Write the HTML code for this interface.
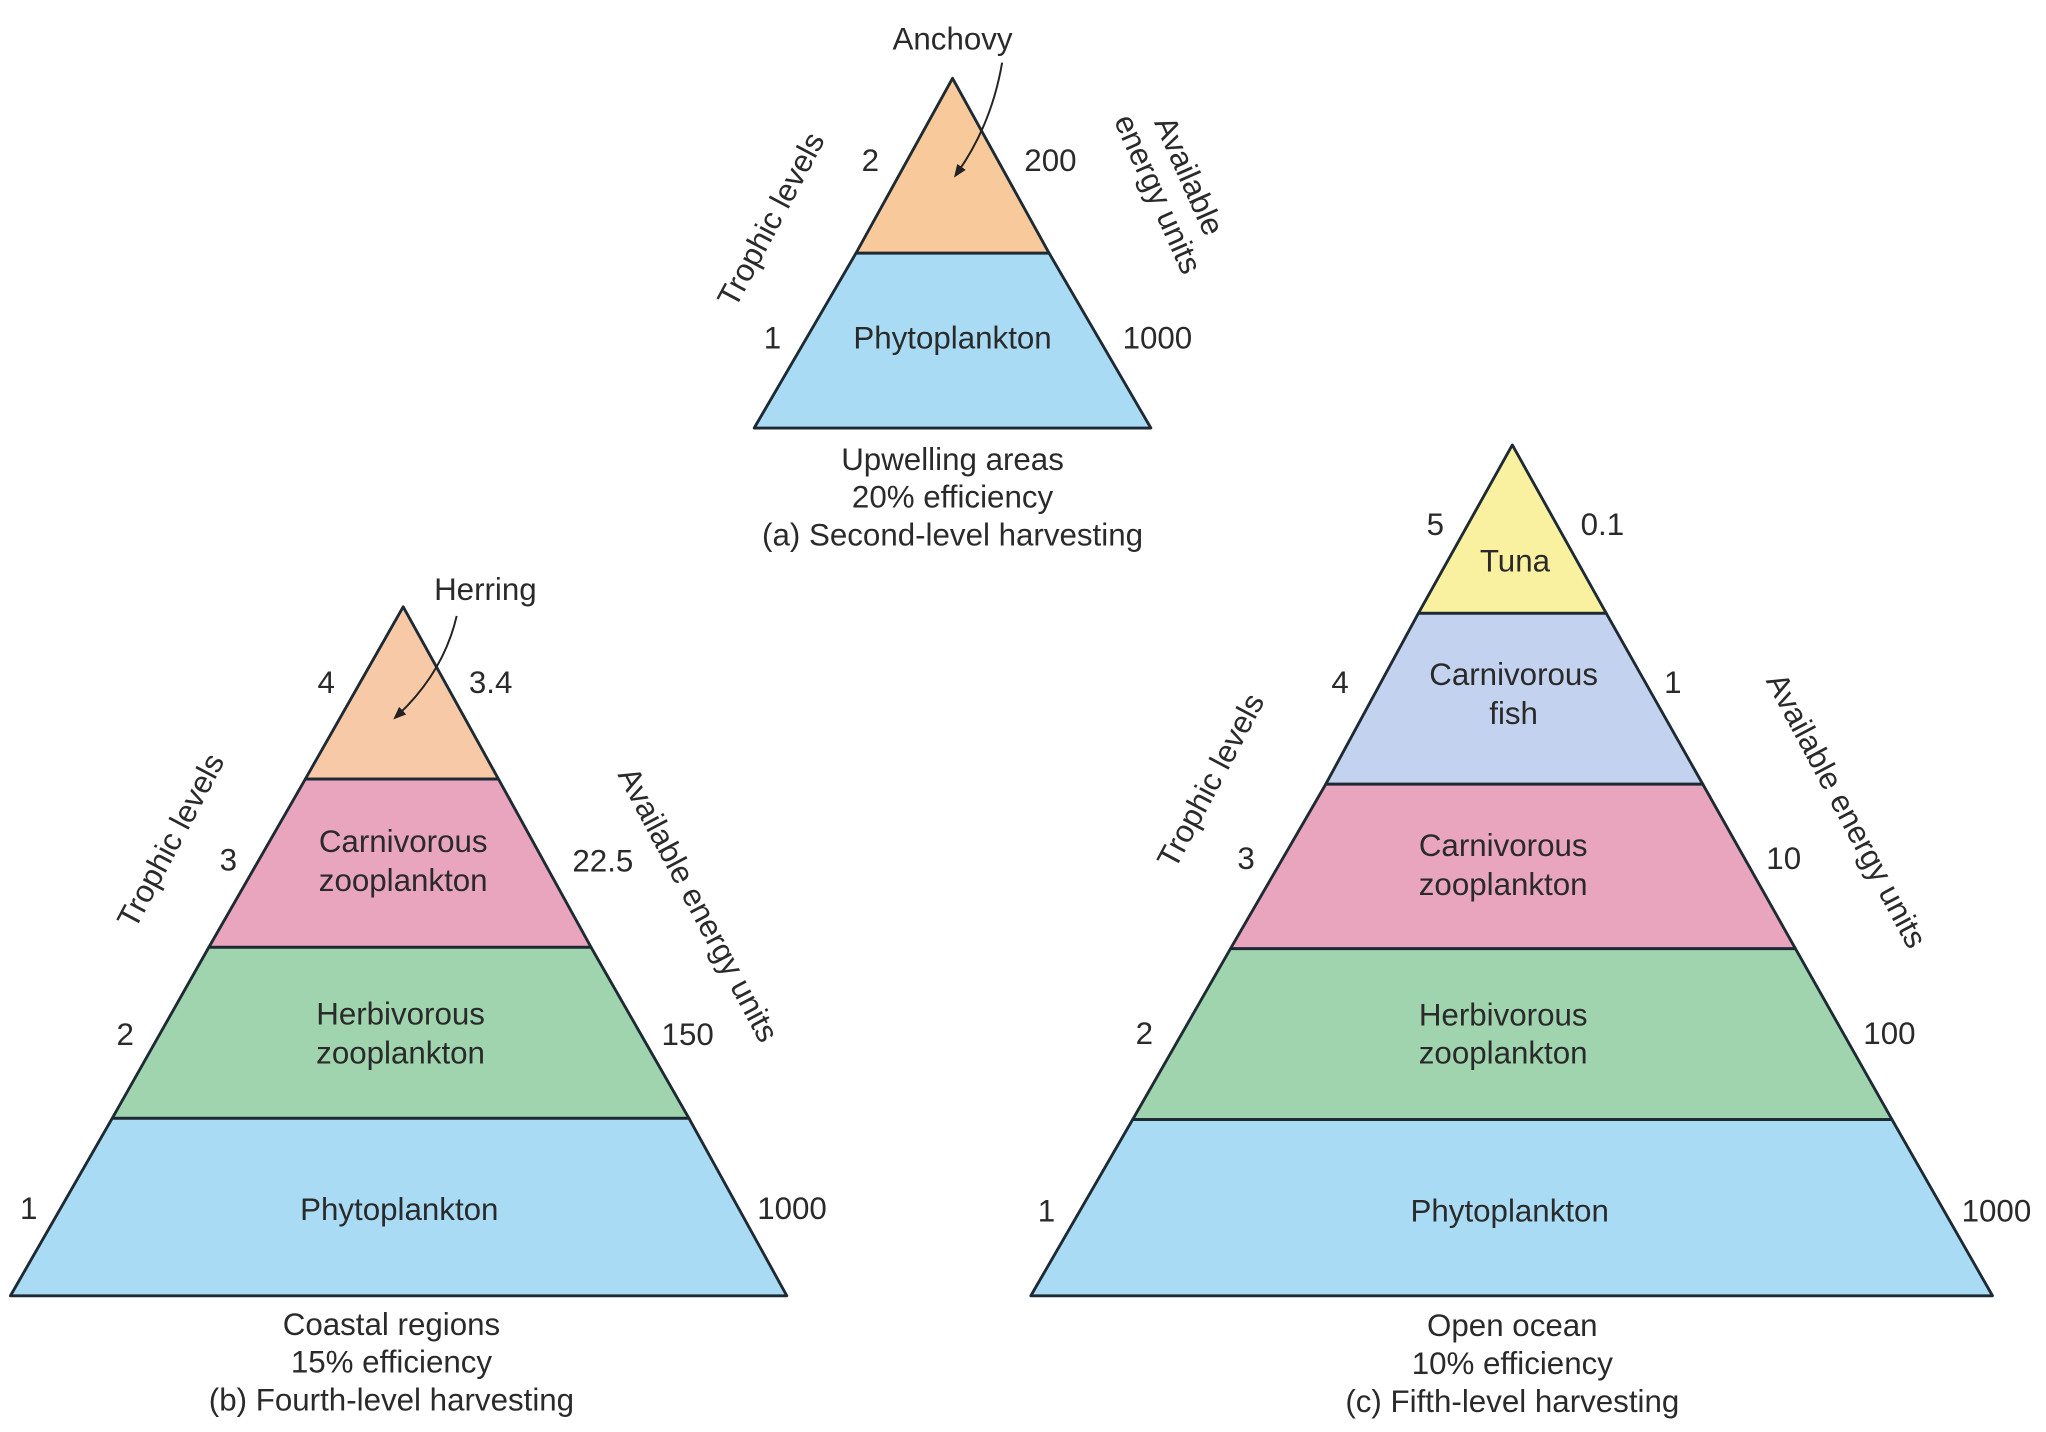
<!DOCTYPE html>
<html><head><meta charset="utf-8"><style>
html,body{margin:0;padding:0;background:#fff;}
svg{display:block;}
text{font-family:"Liberation Sans",sans-serif;fill:#2a2a2a;font-size:24px;}
.m{text-anchor:middle;}
</style></head><body>
<svg width="2046" height="1432" viewBox="0 0 1568 1097.4" preserveAspectRatio="none" xmlns="http://www.w3.org/2000/svg">
<defs><marker id="ah" markerWidth="10" markerHeight="10" refX="5" refY="5" orient="auto" markerUnits="userSpaceOnUse"><path d="M0,1 L10,5 L0,9 z" fill="#222"/></marker></defs>
<g stroke="#1e2a33" stroke-width="2.2" stroke-linejoin="round">
<polygon points="730,60 804,194 656,194" fill="#f8c99b"/>
<polygon points="656,194 804,194 882,328 578,328" fill="#a9dcf4"/>
<polygon points="309,465 382,597 234,597" fill="#f8c9a6"/>
<polygon points="234,597 382,597 453,726 160,726" fill="#e8a5bd"/>
<polygon points="160,726 453,726 528,857 86,857" fill="#9fd4ae"/>
<polygon points="86,857 528,857 603,993 8,993" fill="#a9dcf4"/>
<polygon points="1159,341 1231,470 1087,470" fill="#f9f19f"/>
<polygon points="1087,470 1231,470 1305,601 1016,601" fill="#c3d2ee"/>
<polygon points="1016,601 1305,601 1376,727 943,727" fill="#e8a5bd"/>
<polygon points="943,727 1376,727 1450,858 868,858" fill="#9fd4ae"/>
<polygon points="868,858 1450,858 1527,993 790,993" fill="#a9dcf4"/>
</g>
<g fill="none" stroke="#222" stroke-width="1.5">
<path d="M768,48 Q760,95 734,132" marker-end="url(#ah)"/>
<path d="M350,472 Q340,515 305,548" marker-end="url(#ah)"/>
</g>
<text class="m" x="730" y="38">Anchovy</text>
<text class="m" x="667" y="131">2</text>
<text class="m" x="805" y="131">200</text>
<text class="m" x="592" y="267">1</text>
<text class="m" x="730" y="267">Phytoplankton</text>
<text class="m" x="887" y="267">1000</text>
<text class="m" transform="translate(598,172) rotate(-62)">Trophic levels</text>
<text class="m" transform="translate(904,138) rotate(66)">Available</text>
<text class="m" transform="translate(880,152) rotate(66)">energy units</text>
<text class="m" x="730" y="360">Upwelling areas</text>
<text class="m" x="730" y="389">20% efficiency</text>
<text class="m" x="730" y="418">(a) Second-level harvesting</text>
<text class="m" x="372" y="460">Herring</text>
<text class="m" x="250" y="531">4</text>
<text class="m" x="376" y="531">3.4</text>
<text class="m" x="175" y="667">3</text>
<text class="m" x="462" y="668">22.5</text>
<text class="m" x="96" y="801">2</text>
<text class="m" x="527" y="801">150</text>
<text class="m" x="22" y="934">1</text>
<text class="m" x="607" y="934">1000</text>
<text class="m" x="309" y="653">Carnivorous</text>
<text class="m" x="309" y="683">zooplankton</text>
<text class="m" x="307" y="785">Herbivorous</text>
<text class="m" x="307" y="815">zooplankton</text>
<text class="m" x="306" y="935">Phytoplankton</text>
<text class="m" transform="translate(138,648) rotate(-62)">Trophic levels</text>
<text class="m" transform="translate(528,697) rotate(62)">Available energy units</text>
<text class="m" x="300" y="1023">Coastal regions</text>
<text class="m" x="300" y="1052">15% efficiency</text>
<text class="m" x="300" y="1081">(b) Fourth-level harvesting</text>
<text class="m" x="1161" y="438">Tuna</text>
<text class="m" x="1100" y="410">5</text>
<text class="m" x="1228" y="410">0.1</text>
<text class="m" x="1160" y="525">Carnivorous</text>
<text class="m" x="1160" y="555">fish</text>
<text class="m" x="1027" y="531">4</text>
<text class="m" x="1282" y="531">1</text>
<text class="m" x="1152" y="656">Carnivorous</text>
<text class="m" x="1152" y="686">zooplankton</text>
<text class="m" x="955" y="666">3</text>
<text class="m" x="1367" y="666">10</text>
<text class="m" x="1152" y="786">Herbivorous</text>
<text class="m" x="1152" y="815">zooplankton</text>
<text class="m" x="877" y="800">2</text>
<text class="m" x="1448" y="800">100</text>
<text class="m" x="1157" y="936">Phytoplankton</text>
<text class="m" x="802" y="936">1</text>
<text class="m" x="1530" y="936">1000</text>
<text class="m" transform="translate(935,602) rotate(-62)">Trophic levels</text>
<text class="m" transform="translate(1408,625) rotate(62)">Available energy units</text>
<text class="m" x="1159" y="1024">Open ocean</text>
<text class="m" x="1159" y="1053">10% efficiency</text>
<text class="m" x="1159" y="1082">(c) Fifth-level harvesting</text>
</svg>
</body></html>
